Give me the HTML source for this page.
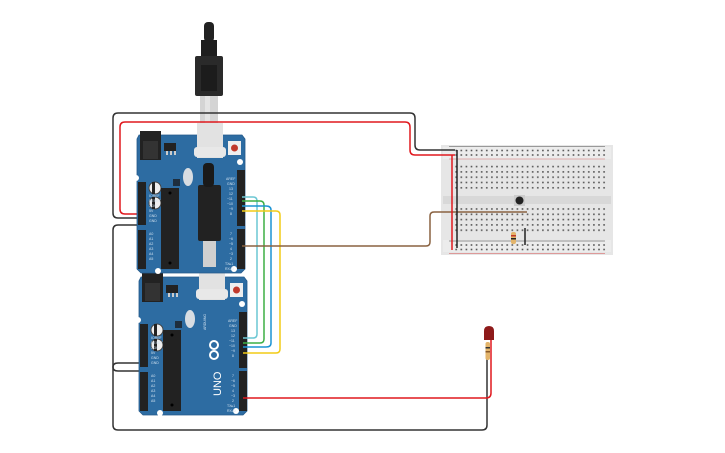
<!DOCTYPE html>
<html><head><meta charset="utf-8"><style>html,body{margin:0;padding:0;background:#fff}svg{display:block}</style></head><body>
<svg width="725" height="453" viewBox="0 0 725 453" xmlns="http://www.w3.org/2000/svg" font-family="Liberation Sans, sans-serif">
<defs>
<pattern id="dots" x="0" y="0" width="5.1" height="5.3" patternUnits="userSpaceOnUse"><rect x="1.5" y="1.5" width="1.6" height="1.6" fill="#555"/></pattern>
<pattern id="rdots" x="0" y="0" width="5.1" height="4.5" patternUnits="userSpaceOnUse"><rect x="1.5" y="1.2" width="1.6" height="1.6" fill="#555"/></pattern>
<g id="board">
  <path d="M2 0 H105 L108 4 V134 L104 138 H4 L0 134 V4 Z" fill="#2d6ca2" stroke="#24598a" stroke-width="0.8"/>
  <rect x="3" y="-4" width="21" height="29" fill="#222"/><rect x="6" y="6" width="15" height="18" fill="#333"/>
  <rect x="27" y="8" width="12" height="8" fill="#222"/><rect x="29" y="16" width="2" height="4" fill="#ccc"/><rect x="33" y="16" width="2" height="4" fill="#ccc"/><rect x="37" y="16" width="2" height="4" fill="#ccc"/>
  <rect x="60" y="-12" width="26" height="35" fill="#e2e2e2"/><rect x="57" y="12" width="32" height="10" rx="3" fill="#e8e8e8"/>
  <rect x="91" y="6" width="13" height="14" fill="#eee"/><circle cx="97.5" cy="13" r="3.5" fill="#c0392b"/>
  <circle cx="18" cy="53" r="6" fill="#eee" stroke="#444"/><circle cx="18" cy="68" r="6" fill="#eee" stroke="#444"/>
  <rect x="15" y="47" width="3" height="12" fill="#222"/><rect x="15" y="62" width="3" height="12" fill="#222"/>
  <ellipse cx="51" cy="42" rx="5" ry="9" fill="#d8dde2"/>
  <rect x="36" y="44" width="7" height="7" fill="#1e2e3e"/>
  <rect x="24" y="53" width="18" height="81" fill="#222"/><circle cx="33" cy="58" r="1.5" fill="#000"/><circle cx="33" cy="128" r="1.5" fill="#000"/>
  <rect x="1" y="47" width="8" height="43" fill="#222"/><rect x="1" y="95" width="8" height="39" fill="#222"/>
  <rect x="100" y="35" width="8" height="56" fill="#222"/><rect x="100" y="94" width="8" height="40" fill="#222"/>
  <g fill="#fff"><circle cx="-1" cy="43" r="3"/><circle cx="103" cy="27" r="3"/><circle cx="21" cy="136" r="3"/><circle cx="97" cy="134" r="3"/></g>
  <g fill="#cfe0ef" font-size="3.5"><text x="12" y="62">IOREF</text><text x="12" y="67">RESET</text><text x="12" y="72">3.3V</text><text x="12" y="77">5V</text><text x="12" y="82">GND</text><text x="12" y="87">GND</text><text x="12" y="100">A0</text><text x="12" y="105">A1</text><text x="12" y="110">A2</text><text x="12" y="115">A3</text><text x="12" y="120">A4</text><text x="12" y="125">A5</text>
  <text x="89" y="45">AREF</text><text x="90" y="50">GND</text><text x="92" y="55">13</text><text x="92" y="60">12</text><text x="90" y="65">~11</text><text x="90" y="70">~10</text><text x="92" y="75">~9</text><text x="93" y="80">8</text><text x="93" y="100">7</text><text x="92" y="105">~6</text><text x="92" y="110">~5</text><text x="93" y="115">4</text><text x="92" y="120">~3</text><text x="93" y="125">2</text><text x="88" y="130">TX▸1</text><text x="88" y="135">RX◂0</text></g>
</g>
</defs>
<rect width="725" height="453" fill="#fff"/>
<!-- breadboard -->
<rect x="441" y="145" width="172" height="110" fill="#e6e6e6"/>
<rect x="443" y="147" width="168" height="12" fill="#ececec"/>
<rect x="443" y="240" width="168" height="12" fill="#ececec"/>
<line x1="449" y1="146.5" x2="605" y2="146.5" stroke="#999" stroke-width="1"/>
<line x1="449" y1="159" x2="605" y2="159" stroke="#d99" stroke-width="0.7"/>
<line x1="449" y1="241" x2="605" y2="241" stroke="#777" stroke-width="0.7"/>
<line x1="449" y1="253.5" x2="605" y2="253.5" stroke="#d99" stroke-width="1"/>
<rect x="443" y="196" width="168" height="8" fill="#d8d8d8"/>
<rect x="455" y="149" width="152" height="9" fill="url(#rdots)"/>
<rect x="455" y="242" width="152" height="9" fill="url(#rdots)"/>
<rect x="455" y="163" width="152" height="27" fill="url(#dots)"/>
<rect x="455" y="205" width="152" height="27" fill="url(#dots)"/>
<!-- button -->
<rect x="514" y="195" width="11" height="11" fill="#ccc"/><circle cx="519.5" cy="200.5" r="4" fill="#222"/>
<!-- USB cable top -->
<rect x="200" y="95" width="18" height="30" fill="#d4d4d4"/><rect x="205" y="95" width="5" height="30" fill="#e4e4e4"/>
<rect x="204" y="22" width="10" height="20" rx="4" fill="#222"/><rect x="201" y="40" width="16" height="16" fill="#1e1e1e"/>
<rect x="195" y="56" width="28" height="40" rx="2" fill="#2a2a2a"/><rect x="201" y="65" width="16" height="26" fill="#1c1c1c"/>
<!-- wires behind boards -->
<path d="M455 150 H420 Q415 150 415 145 V118 Q415 113 410 113 H118 Q113 113 113 118 V213 Q113 218 118 218 H140" fill="none" stroke="#333" stroke-width="1.5"/>
<path d="M455 155 H415 Q410 155 410 150 V127 Q410 122 405 122 H125 Q120 122 120 127 V209 Q120 214 125 214 H140" fill="none" stroke="#e0191f" stroke-width="1.5"/>
<path d="M140 225 H118 Q113 225 113 230 V425 Q113 430 118 430 H482 Q487 430 487 425 V350" fill="none" stroke="#333" stroke-width="1.5"/>
<path d="M141 363 H118 Q113 363 113 367 Q113 371 118 371 H141" fill="none" stroke="#333" stroke-width="1.5"/>
<!-- boards -->
<use href="#board" x="139" y="277"/>
<use href="#board" x="137" y="135"/>
<!-- USB plug on top board -->
<rect x="203" y="240" width="13" height="27" fill="#d0d0d0"/>
<rect x="198" y="185" width="23" height="56" rx="2" fill="#222"/><rect x="203" y="163" width="11" height="24" rx="4" fill="#1a1a1a"/>
<!-- UNO logo -->
<text x="206" y="330" fill="#cfe0ef" font-size="3.5" transform="rotate(-90 206 330)">ARDUINO</text>
<circle cx="214" cy="345" r="4" fill="none" stroke="#fff" stroke-width="2"/><circle cx="214" cy="355" r="4" fill="none" stroke="#fff" stroke-width="2"/>
<text x="0" y="0" fill="#fff" font-size="11" transform="translate(221 396) rotate(-90)">UNO</text>
<!-- signal wires -->
<path d="M242 197 H253 Q257 197 257 201 V334 Q257 338 253 338 H243" fill="none" stroke="#6cc7d3" stroke-width="1.5"/>
<path d="M242 201 H260 Q264 201 264 205 V339 Q264 343 260 343 H243" fill="none" stroke="#3daf45" stroke-width="1.5"/>
<path d="M242 206 H266 Q271 206 271 210 V343 Q271 347 266 347 H243" fill="none" stroke="#1b94d4" stroke-width="1.5"/>
<path d="M242 211 H276 Q280 211 280 215 V349 Q280 353 276 353 H243" fill="none" stroke="#f2cb17" stroke-width="1.5"/>
<path d="M242 246 H426 Q430 246 430 242 V216 Q430 212 434 212 H527" fill="none" stroke="#8a6240" stroke-width="1.5"/>
<path d="M243 398 H486 Q491 398 491 393 V336" fill="none" stroke="#e0191f" stroke-width="1.5"/>
<!-- breadboard wires -->
<line x1="457" y1="150" x2="457" y2="248" stroke="#222" stroke-width="1.5"/>
<line x1="452" y1="155" x2="452" y2="250" stroke="#e0191f" stroke-width="1.5"/>
<line x1="525" y1="228" x2="525" y2="245" stroke="#222" stroke-width="1.5"/>
<rect x="511" y="232" width="5" height="12" rx="2" fill="#e3b46a"/><rect x="511" y="235" width="5" height="1.5" fill="#c0392b"/><rect x="511" y="238" width="5" height="1.5" fill="#222"/>
<!-- LED -->
<rect x="485.5" y="342" width="4.5" height="18" rx="2" fill="#e3b46a"/><rect x="485.5" y="347" width="4.5" height="1.5" fill="#333"/><rect x="485.5" y="351" width="4.5" height="1.5" fill="#8a5a2a"/>
<path d="M484 340 V331 Q484 326 489 326 Q494 326 494 331 V340 Z" fill="#8e1a1a"/>
</svg>
</body></html>
